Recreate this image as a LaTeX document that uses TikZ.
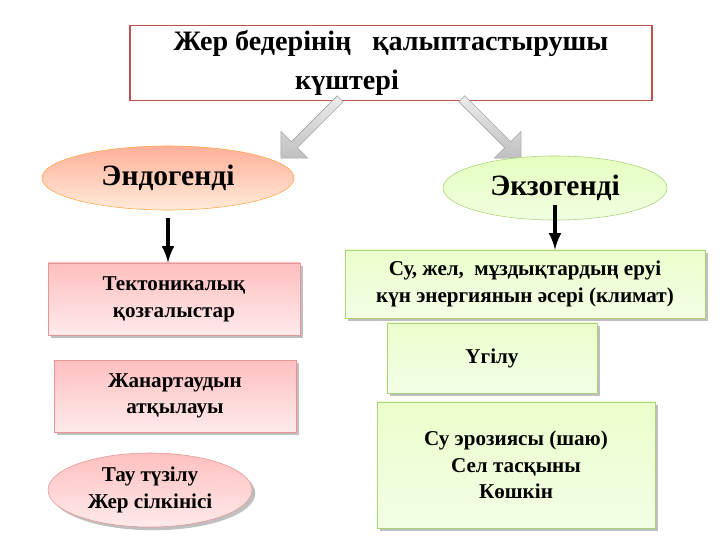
\documentclass[tikz,border=0pt]{standalone}
\usepackage{fontspec}
\setmainfont{Liberation Serif}
\usetikzlibrary{shapes.geometric,shapes.arrows,shadows}
\definecolor{pinkbd}{RGB}{230,150,150}
\definecolor{greenbd}{RGB}{170,210,120}
\definecolor{titlebd}{RGB}{192,80,77}
\tikzset{
  pinkbox/.style={draw=pinkbd, top color=red!25, bottom color=red!8, drop shadow, align=center, font=\fontsize{15}{19}\selectfont\bfseries},
  greenbox/.style={draw=greenbd, top color=green!20!lime!20, bottom color=green!30!lime!10!white, drop shadow, align=center, font=\fontsize{15}{19}\selectfont\bfseries},
  grayarrow/.style={single arrow, draw=gray!70, top color=gray!15, bottom color=gray!50, minimum height=2.1cm, minimum width=0.95cm, single arrow head extend=0.15cm, inner sep=1pt}
}
\begin{document}
\begin{tikzpicture}[x=0.025cm,y=-0.025cm]
  \useasboundingbox (0,0) rectangle (720,540);
  % title
  \node[draw=titlebd, line width=1.2pt, fill=white, minimum width=13.05cm, minimum height=1.8cm, align=center, font=\fontsize{20}{28}\selectfont\bfseries] (title) at (391,63) {Жер бедерінің \ \ қалыптастырушы\\\hspace*{-2.2cm}күштері};
  % block arrows
  \node[grayarrow, rotate=-135] (arL) at (312,127) {};
  \node[grayarrow, rotate=-45] (arR) at (490,127) {};
  % left branch
  \node[ellipse, draw=orange!70, top color=orange!45!red!40, bottom color=orange!15, minimum width=6.3cm, minimum height=1.6cm, font=\fontsize{21}{25}\selectfont\bfseries] (endo) at (168,178) {Эндогенді};
  \node[pinkbox, minimum width=6.3cm, minimum height=1.8cm] (tekt) at (174,299) {Тектоникалық\\қозғалыстар};
  \node[pinkbox, minimum width=6.05cm, minimum height=1.8cm] (zhan) at (175,396) {Жанартаудын\\атқылауы};
  \node[pinkbox, ellipse, minimum width=5.1cm, minimum height=1.85cm, inner sep=0pt] (tau) at (150,490) {Тау түзілу\\Жер сілкінісі};
  % right branch
  \node[ellipse, draw=greenbd, top color=green!20!lime!25, bottom color=green!30!lime!12!white, minimum width=5.6cm, minimum height=1.6cm, font=\fontsize{21}{25}\selectfont\bfseries] (ekzo) at (555,188) {Экзогенді};
  \node[greenbox, minimum width=9cm, minimum height=1.7cm] (su) at (525,284) {Су, жел, \ мұздықтардың еруі\\күн энергиянын әсері (климат)};
  \node[greenbox, minimum width=5.25cm, minimum height=1.75cm] (ugilu) at (492,358) {Үгілу};
  \node[greenbox, minimum width=6.95cm, minimum height=3.15cm] (eroz) at (516,465) {Су эрозиясы (шаю)\\Сел тасқыны\\Көшкін};
  % connectors
  \coordinate (e1) at (168,218);
  \coordinate (e2) at (555,205);
  \draw[line width=3pt, -latex] (e1) -- (e1 |- tekt.north);
  \draw[line width=3pt, -latex] (e2) -- (e2 |- su.north);
\end{tikzpicture}
\end{document}
